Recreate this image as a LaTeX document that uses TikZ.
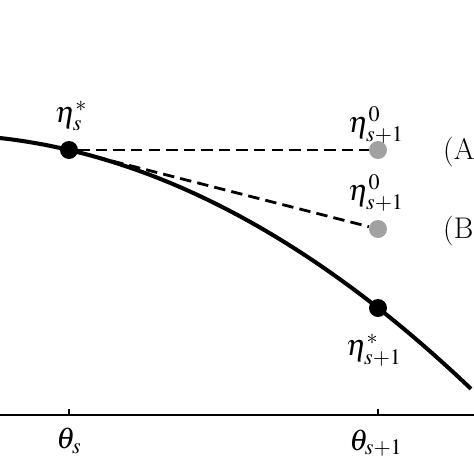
\documentclass[tikz,border=0pt]{standalone}
\usepackage{mathptmx}

\begin{document}
\begin{tikzpicture}[x=0.02cm,y=-0.02cm,
		every node/.style={font=\fontsize{17}{19}\selectfont}]
		\useasboundingbox (0,0) rectangle (474,474);
		\clip (0,0) rectangle (474,474);
		% axis and ticks
		\coordinate (axl) at (0,415);
		\coordinate (axr) at (474,415);
		\coordinate (ts) at (69,415);
		\coordinate (tsn) at (378,415);
		\draw[line width=0.85pt] (axl) -- (axr);
		\draw[line width=0.85pt] (ts) -- ++(0,-6);
		\draw[line width=0.85pt] (tsn) -- ++(0,-6);
		\node (thetas) at (69,441) {$\theta_s$};
		\node (thetasn) at (376,443) {$\theta_{s+1}$};
		% curve
		\draw[line width=2.3pt] plot[domain=0:471,samples=80] (\x,{134.5+8.93*((\x+62.7)/100)^2});
		\begin{scope}[every node/.style={circle,inner sep=0pt,minimum size=0.36cm}]
			\node[fill=black] (etas) at (69,150) {};
			\node[fill=black!37] (etaA) at (378,150) {};
			\node[fill=black!37] (etaB) at (378,229) {};
			\node[fill=black] (etasn) at (378,308) {};
		\end{scope}
		\begin{scope}[every edge/.style={draw=black,line width=1.6pt,dash pattern=on 6.5pt off 3.5pt}]
			\path (etas) edge (etaA);
			\path (etas) edge (etaB);
		\end{scope}
		% labels
		\node (labs) at (71,116) {$\eta_s^*$};
		\node (labA) at (376,125) {$\eta_{s+1}^0$};
		\node (labB) at (376,193) {$\eta_{s+1}^0$};
		\node (labsn) at (374,350) {$\eta_{s+1}^*$};
		\node[anchor=west] (caseA) at (437,152) {(A)};
		\node[anchor=west] (caseB) at (437,231) {(B)};
	\end{tikzpicture}
\end{document}
